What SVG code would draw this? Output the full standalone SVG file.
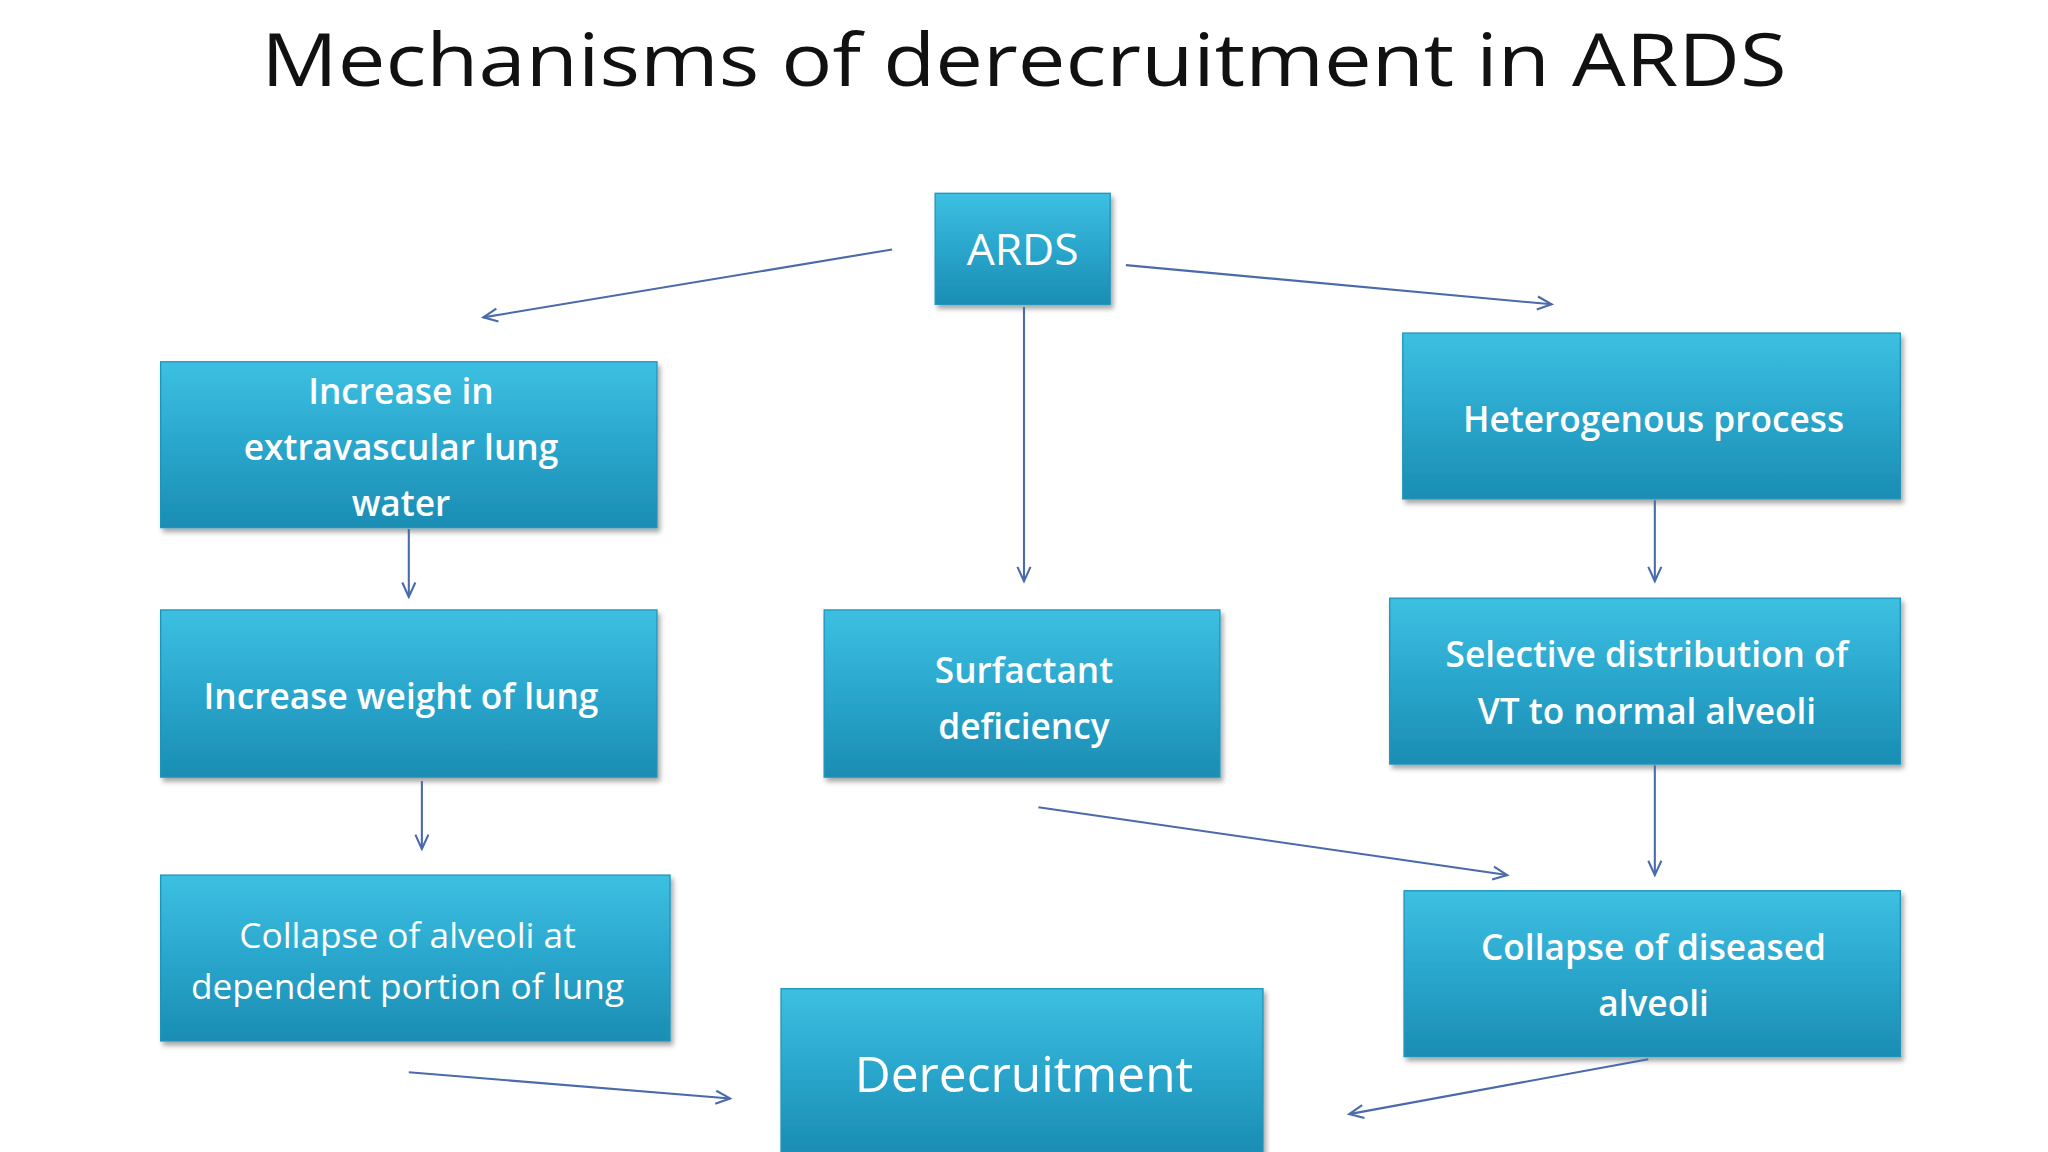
<svg xmlns="http://www.w3.org/2000/svg" width="2048" height="1152" viewBox="0 0 2048 1152">
<defs>
<linearGradient id="g" x1="0" y1="0" x2="0" y2="1">
<stop offset="0" stop-color="#3cc0e2"/><stop offset="0.5" stop-color="#2aa6cc"/><stop offset="1" stop-color="#1b8db3"/>
</linearGradient>
<filter id="sh" x="-10%" y="-10%" width="125%" height="130%"><feDropShadow dx="2" dy="3" stdDeviation="2" flood-opacity="0.35"/></filter>
<marker id="ah" markerWidth="14" markerHeight="12" refX="12" refY="6" orient="auto" markerUnits="userSpaceOnUse">
<path d="M1,1 L12,6 L1,11" fill="none" stroke="#4a6aac" stroke-width="1.6"/>
</marker>
<style>
.b{fill:url(#g);stroke:#1f95bb;stroke-width:1;filter:url(#sh)}
.t{font-family:"Open Sans","Liberation Sans",sans-serif;font-size:27px;font-weight:600;fill:#fff;text-anchor:middle}
.c{stroke:#4a6aac;stroke-width:1.6;fill:none;marker-end:url(#ah)}
</style>
</defs>
<rect width="2048" height="1152" fill="#fff"/>
<g transform="scale(1.3061)">
<text x="784" y="66" font-family="Open Sans,Liberation Sans,sans-serif" font-size="56" text-anchor="middle" fill="#111" textLength="1168" lengthAdjust="spacingAndGlyphs">Mechanisms of derecruitment in ARDS</text>
<g id="ards"><rect class="b" x="716" y="148" width="134" height="85"/><text class="t" x="783" y="203" font-size="34" style="font-size:34px;font-weight:400">ARDS</text></g>
<g id="evlw"><rect class="b" x="123" y="277" width="380" height="127"/><text class="t" x="307" y="309">Increase in</text><text class="t" x="307" y="352">extravascular lung</text><text class="t" x="307" y="395">water</text></g>
<g id="weight"><rect class="b" x="123" y="467" width="380" height="128"/><text class="t" x="307" y="543">Increase weight of lung</text></g>
<g id="collapse-dep"><rect class="b" x="123" y="670" width="390" height="127"/><text class="t" x="312" y="726" style="font-weight:400">Collapse of alveoli at</text><text class="t" x="312" y="765" style="font-weight:400">dependent portion of lung</text></g>
<g id="surf"><rect class="b" x="631" y="467" width="303" height="128"/><text class="t" x="784" y="523">Surfactant</text><text class="t" x="784" y="566">deficiency</text></g>
<g id="hetero"><rect class="b" x="1074" y="255" width="381" height="127"/><text class="t" x="1266" y="331">Heterogenous process</text></g>
<g id="selective"><rect class="b" x="1064" y="458" width="391" height="127"/><text class="t" x="1261" y="511">Selective distribution of</text><text class="t" x="1261" y="554">VT to normal alveoli</text></g>
<g id="collapse-dis"><rect class="b" x="1075" y="682" width="380" height="127"/><text class="t" x="1266" y="735">Collapse of diseased</text><text class="t" x="1266" y="778">alveoli</text></g>
<g id="derec"><rect class="b" x="598" y="757" width="369" height="125"/><text class="t" x="784" y="836" style="font-size:38px;font-weight:400">Derecruitment</text></g>
<g id="connectors">
<line class="c" x1="683" y1="191" x2="370" y2="243"/>
<line class="c" x1="862" y1="203" x2="1188" y2="233"/>
<line class="c" x1="784" y1="235" x2="784" y2="445"/>
<line class="c" x1="313" y1="405" x2="313" y2="457"/>
<line class="c" x1="323" y1="598" x2="323" y2="650"/>
<line class="c" x1="1267" y1="383" x2="1267" y2="445"/>
<line class="c" x1="1267" y1="586" x2="1267" y2="670"/>
<line class="c" x1="795" y1="618" x2="1154" y2="670"/>
<line class="c" x1="313" y1="821" x2="559" y2="841"/>
<line class="c" x1="1262" y1="811" x2="1033" y2="853"/>
</g>
</g>
</svg>
